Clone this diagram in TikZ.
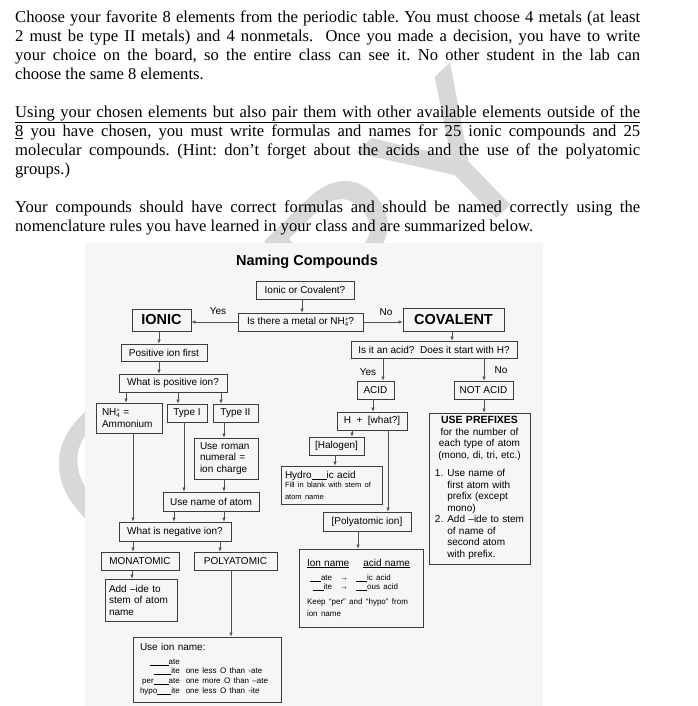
\documentclass[tikz,border=0pt]{standalone}
\usepackage{fontspec}
\setmainfont{Liberation Serif}[WordSpace={1,1,2}]
\newfontfamily\diagfont{Liberation Sans}[Ligatures=TeX]
\usetikzlibrary{arrows.meta, positioning}

\definecolor{bggray}{HTML}{F6F6F6}
\definecolor{boxline}{HTML}{3C3C3C}
\definecolor{connline}{HTML}{505050}
\definecolor{markgray}{HTML}{D8D8D8}

\newcommand{\introtext}{\frenchspacing\fontsize{16.6}{19}\selectfont}
\newcommand{\boxtext}{\diagfont\fontsize{10}{11.5}\selectfont}
\newcommand{\notetext}{\diagfont\fontsize{8}{9.7}\selectfont}
\newcommand{\ionscript}{\fontsize{6}{6}\selectfont}
\newcommand{\nhfour}{NH\rlap{\raisebox{-1.6pt}{\ionscript 4}}\raisebox{3.8pt}{\ionscript +}}
\newcommand{\emptyslot}[1]{\rule[-1pt]{#1}{0.5pt}}

\begin{document}
\begin{tikzpicture}[x=1pt, y=-1pt,
    box/.style 2 args={draw=boxline, line width=0.8pt, inner sep=0pt,
      minimum width=#1pt, minimum height=#2pt, font=\boxtext},
    tbox/.style n args={3}{box={#1}{#2}, text width=#3pt, align=left},
    bigbox/.style 2 args={box={#1}{#2}, font=\diagfont\fontsize{14.5}{16}\selectfont\bfseries},
    lbl/.style={inner sep=0pt, font=\boxtext},
    arr/.style={draw=connline, line width=0.7pt, -{Latex[length=4pt,width=3.5pt]}}]
  \useasboundingbox (0,0) rectangle (697,706);

  % watermark
  \node[rotate=44, text=markgray, inner sep=0pt,
    font=\diagfont\fontsize{210}{210}\selectfont] (copymark) at (290,318) {COPY};

  % instructions
  \node[anchor=north west, inner sep=0pt, text width=625pt, align=justify,
    font=\introtext] (intro) at (15,10.5) {%
    Choose your favorite 8 elements from the periodic table. You must choose 4 metals (at least\linebreak
    2 must be type II metals) and 4 nonmetals.\ \ Once you made a decision, you have to write\linebreak
    your choice on the board, so the entire class can see it. No other student in the lab can\linebreak
    choose the same 8 elements.\par\vspace{19pt}
    \underline{\makebox[625pt][s]{Using your chosen elements but also pair them with other available elements outside of the}}\linebreak
    \underline{8} you have chosen, you must write formulas and names for 25 ionic compounds and 25\linebreak
    molecular compounds. (Hint: don't forget about the acids and the use of the polyatomic\linebreak
    groups.)\par\vspace{19pt}
    Your compounds should have correct formulas and should be named correctly using the\linebreak
    nomenclature rules you have learned in your class and are summarized below.};

  % chart
  \fill[bggray] (85,243) rectangle (543,706);
  \node[inner sep=0pt, font=\diagfont\fontsize{14.5}{16}\selectfont\bfseries] (ttl) at (307,262) {Naming Compounds};

  \node[box={98}{18}] (ionq) at (305,290) {Ionic or Covalent?};
  \node[box={125}{18}] (metal) at (300.5,322) {Is there a metal or \nhfour?};
  \node[bigbox={59}{22}] (ionic) at (161.5,320) {IONIC};
  \node[bigbox={101}{23}] (coval) at (453.5,319.5) {COVALENT};
  \node[lbl] (yesl) at (218,311) {Yes};
  \node[lbl] (nol) at (386,312) {No};

  % ionic side
  \node[box={86}{17}] (posfirst) at (164,352.5) {Positive ion first};
  \node[box={108}{18}] (whatpos) at (173,383) {What is positive ion?};
  \node[tbox={66}{30}{54}] (ammon) at (129,418) {\nhfour\ =\\Ammonium};
  \node[box={40}{18}] (typeI) at (187,413) {Type I};
  \node[box={45}{18}] (typeII) at (235.5,413) {Type II};
  \node[tbox={64}{41}{52}] (roman) at (226,458.5) {Use roman\\numeral =\\ion charge};
  \node[box={96}{19}] (usename) at (211,501.5) {Use name of atom};
  \node[box={112}{19}] (whatneg) at (175,531.5) {What is negative ion?};
  \node[box={78}{18}] (mono) at (140,561) {MONATOMIC};
  \node[box={83}{18}] (poly) at (235.5,561) {POLYATOMIC};
  \node[tbox={72}{42}{64}] (addide) at (141,600) {Add --ide to\\stem of atom\\name};
  \node[tbox={148}{65}{134}] (useion) at (207,669.5) {Use ion name:\\[6pt]
    {\notetext\begin{tabular}{@{}r@{\hspace{6pt}}l@{}}
      \emptyslot{19pt}ate & \\
      \emptyslot{17pt}ite & one less O than -ate\\
      per\emptyslot{15pt}ate & one more O than --ate\\
      hypo\emptyslot{14pt}ite & one less O than -ite
    \end{tabular}}};

  % covalent side
  \node[box={166}{17}] (acidq) at (434,349.5) {Is it an acid?\ \ Does it start with H?};
  \node[box={37}{18}] (acid) at (375.5,390) {ACID};
  \node[box={59}{18}] (notacid) at (483.5,390) {NOT ACID};
  \node[lbl] (yesr) at (368,372) {Yes};
  \node[lbl] (nor) at (501,370) {No};
  \node[box={70}{18}] (hwhat) at (372,421) {H\ \ +\ \ [what?]};
  \node[box={55}{18}] (halogen) at (336.5,446) {[Halogen]};
  \node[tbox={101}{38}{93}] (hydro) at (331.5,485) {Hydro\emptyslot{15pt}ic acid\\
    {\diagfont\fontsize{7.5}{9.5}\selectfont Fill in blank with stem of\\atom name}};
  \node[box={88}{19}] (polyion) at (367,521.5) {[Polyatomic ion]};
  \node[tbox={124}{78}{108}] (ionname) at (361,588) {\underline{Ion name}\hspace{14pt}\underline{acid name}\\[4pt]
    {\notetext\hspace{3pt}\begin{tabular}{@{}r@{\hspace{8pt}}c@{\hspace{8pt}}l@{}}
      \emptyslot{11pt}ate & → & \emptyslot{11pt}ic acid\\
      \emptyslot{11pt}ite & → & \emptyslot{11pt}ous acid
    \end{tabular}\\[5pt]
    Keep ``per'' and ``hypo'' from\\[1pt]ion name}};
  \node[box={101}{151}, text width=99pt, align=center] (prefix) at (479.5,488.5) {%
    {\fontsize{10.5}{12}\selectfont\bfseries USE PREFIXES}\\
    for the number of\\each type of atom\\(mono, di, tri, etc.)\\[7pt]
    \begin{tabular}{@{}r@{\hspace{4pt}}l@{}}
      1. & Use name of\\ & first atom with\\ & prefix (except\\ & mono)\\
      2. & Add --ide to stem\\ & of name of\\ & second atom\\ & with prefix.
    \end{tabular}};

  % connectors
  \draw[arr] (metal.west) -- (metal.west -| ionic.east);
  \draw[arr] (metal.east) -- (metal.east -| coval.west);
  \foreach \from/\to/\x in {ionq/metal/302, ionic/posfirst/159, posfirst/whatpos/159,
      whatpos/ammon/126, whatpos/typeI/178, whatpos/typeII/221, typeII/roman/224,
      typeI/usename/184, roman/usename/224, ammon/whatneg/133, usename/whatneg/174,
      usename/whatneg/224, whatneg/mono/133, whatneg/poly/220, mono/addide/132,
      poly/useion/231, coval/acidq/452, acidq/acid/383, acidq/notacid/484,
      acid/hwhat/373, notacid/prefix/484, hwhat/halogen/352, hwhat/polyion/388,
      halogen/hydro/335, polyion/ionname/358}
    \draw[arr] (\from.south -| \x,0) -- (\to.north -| \x,0);
\end{tikzpicture}
\end{document}
